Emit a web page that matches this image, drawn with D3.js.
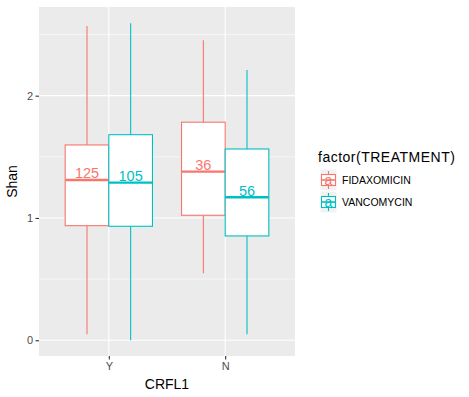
<!DOCTYPE html>
<html>
<head>
<meta charset="utf-8">
<script src="https://cdn.jsdelivr.net/npm/d3@7"></script>
<style>
  body { margin: 0; background: #fff; }
  svg { font-family: "Liberation Sans", Arial, sans-serif; }
</style>
</head>
<body>
<div id="chart"></div>
<script>
// data
const groups = ['Y', 'N'];
const treatments = ['FIDAXOMICIN', 'VANCOMYCIN'];
const colors = ['#F8766D', '#00BFC4'];
// per group, per treatment: [whiskerLow, q1, median, q3, whiskerHigh]
const statsY = [[0.049, 0.937, 1.311, 1.597, 2.57], [0.0, 0.932, 1.289, 1.681, 2.592]];
const statsN = [[0.548, 1.022, 1.379, 1.783, 2.453], [0.049, 0.853, 1.169, 1.564, 2.21]];
const counts = [[125, 105], [36, 56]];
const yTicks = [0, 1, 2];
const yMinor = [0.5, 1.5, 2.5];

const width = 469, height = 397;
const panel = { left: 39, top: 7, right: 295, bottom: 356 };

const svg = d3.select('#chart').append('svg').attr('width', width).attr('height', height);

const x = d3.scalePoint().domain(groups).range([panel.left, panel.right]).padding(0.6);
const dodge = d3.scaleBand().domain(treatments)
  .range([-0.375 * x.step(), 0.375 * x.step()]).padding(0);
const y = d3.scaleLinear().domain([-0.1288, 2.7251]).range([panel.bottom, panel.top]);
const color = d3.scaleOrdinal().domain(treatments).range(colors);

// panel background + grid
svg.append('rect').attr('x', panel.left).attr('y', panel.top)
  .attr('width', panel.right - panel.left).attr('height', panel.bottom - panel.top)
  .attr('fill', '#EBEBEB');

const grid = svg.append('g');
grid.selectAll('.minor').data(yMinor).enter().append('line')
  .attr('x1', panel.left).attr('x2', panel.right)
  .attr('y1', d => y(d)).attr('y2', d => y(d))
  .attr('stroke', '#fff').attr('stroke-width', 0.55);
grid.selectAll('.major').data(yTicks).enter().append('line')
  .attr('x1', panel.left).attr('x2', panel.right)
  .attr('y1', d => y(d)).attr('y2', d => y(d))
  .attr('stroke', '#fff').attr('stroke-width', 1.1);
grid.selectAll('.vmajor').data(groups).enter().append('line')
  .attr('x1', d => x(d)).attr('x2', d => x(d))
  .attr('y1', panel.top).attr('y2', panel.bottom)
  .attr('stroke', '#fff').attr('stroke-width', 1.1);

// boxes
const rows = [];
[statsY, statsN].forEach((g, gi) => {
  g.forEach((s, ti) => {
    rows.push({ group: groups[gi], treatment: treatments[ti], s, n: counts[gi][ti] });
  });
});

const box = svg.append('g').selectAll('g.box').data(rows).enter().append('g').attr('class', 'box');
const cx = d => x(d.group) + dodge(d.treatment) + dodge.bandwidth() / 2;
const bx = d => x(d.group) + dodge(d.treatment);

box.append('line').attr('x1', cx).attr('x2', cx)
  .attr('y1', d => y(d.s[0])).attr('y2', d => y(d.s[1]))
  .attr('stroke', d => color(d.treatment)).attr('stroke-width', 1.1);
box.append('line').attr('x1', cx).attr('x2', cx)
  .attr('y1', d => y(d.s[3])).attr('y2', d => y(d.s[4]))
  .attr('stroke', d => color(d.treatment)).attr('stroke-width', 1.1);
box.append('rect')
  .attr('x', bx).attr('width', dodge.bandwidth())
  .attr('y', d => y(d.s[3])).attr('height', d => y(d.s[1]) - y(d.s[3]))
  .attr('fill', '#fff').attr('stroke', d => color(d.treatment)).attr('stroke-width', 1.1);
box.append('line')
  .attr('x1', bx).attr('x2', d => bx(d) + dodge.bandwidth())
  .attr('y1', d => y(d.s[2])).attr('y2', d => y(d.s[2]))
  .attr('stroke', d => color(d.treatment)).attr('stroke-width', 2.4);
box.append('text')
  .attr('x', cx).attr('y', d => y(d.s[2]) - 1.5)
  .attr('text-anchor', 'middle').attr('font-size', 14.5)
  .attr('fill', d => color(d.treatment))
  .text(d => d.n);

// axes
const yAxis = svg.append('g').attr('transform', `translate(${panel.left},0)`)
  .call(d3.axisLeft(y).tickValues(yTicks).tickSize(3.5).tickPadding(2.5).tickFormat(d3.format('d')));
const xAxis = svg.append('g').attr('transform', `translate(0,${panel.bottom})`)
  .call(d3.axisBottom(x).tickSize(3.5).tickPadding(2.5));
[yAxis, xAxis].forEach(a => {
  a.select('.domain').remove();
  a.selectAll('.tick line').attr('stroke', '#333').attr('stroke-width', 1.1);
  a.selectAll('.tick text').attr('fill', '#4D4D4D').attr('font-size', 11)
    .attr('font-family', '"Liberation Sans", Arial, sans-serif');
});

svg.append('text').attr('x', (panel.left + panel.right) / 2).attr('y', 389)
  .attr('text-anchor', 'middle').attr('font-size', 14).text('CRFL1');
svg.append('text')
  .attr('transform', `translate(17,${(panel.top + panel.bottom) / 2}) rotate(-90)`)
  .attr('text-anchor', 'middle').attr('font-size', 14).text('Shan');

// legend
const legend = svg.append('g').attr('transform', 'translate(318,0)');
legend.append('text').attr('x', 0).attr('y', 162).attr('font-size', 14)
  .attr('letter-spacing', 0.5).text('factor(TREATMENT)');
const keyH = 22, keyW = 17;
const item = legend.selectAll('g.item').data(treatments).enter().append('g')
  .attr('class', 'item')
  .attr('transform', (d, i) => `translate(2,${169 + i * keyH})`);
item.append('rect').attr('x', 0).attr('y', 0).attr('width', keyW).attr('height', keyH)
  .attr('fill', '#F2F2F2').attr('stroke', '#fff').attr('stroke-width', 1);
item.append('line').attr('x1', keyW / 2).attr('x2', keyW / 2).attr('y1', 2).attr('y2', keyH - 2)
  .attr('stroke', d => color(d)).attr('stroke-width', 1.1);
item.append('rect').attr('x', 1.5).attr('y', 5.5).attr('width', keyW - 3).attr('height', keyH - 11)
  .attr('fill', '#fff').attr('stroke', d => color(d)).attr('stroke-width', 1.1);
item.append('line').attr('x1', 1.5).attr('x2', keyW - 1.5).attr('y1', keyH / 2).attr('y2', keyH / 2)
  .attr('stroke', d => color(d)).attr('stroke-width', 1.6);
item.append('text').attr('x', keyW / 2).attr('y', keyH / 2 + 4.5)
  .attr('text-anchor', 'middle').attr('font-size', 14)
  .attr('fill', d => color(d)).text('a');
item.append('text').attr('x', keyW + 5).attr('y', keyH / 2 + 4)
  .attr('font-size', 10.5).text(d => d);
</script>
</body>
</html>
